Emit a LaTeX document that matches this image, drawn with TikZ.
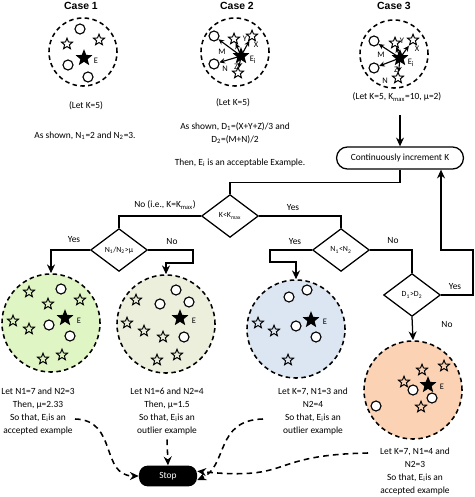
\documentclass[tikz,border=0pt]{standalone}
\usepackage{fontspec}
\setmainfont{Carlito}
\newfontfamily\headfont{Liberation Sans}
\usetikzlibrary{shapes.geometric,arrows.meta,positioning}
\definecolor{grpgreen}{RGB}{224,245,196}
\definecolor{grpbeige}{RGB}{235,239,220}
\definecolor{grpblue}{RGB}{220,230,242}
\definecolor{grporange}{RGB}{251,210,180}

\begin{document}
\begin{tikzpicture}[x=0.025cm,y=-0.025cm,
    every node/.style={font=\fontsize{6.7}{9.25}\selectfont,align=center},
    flow/.style={line width=0.9pt},
    arr/.style={flow,-{Stealth[length=2.2mm,width=2mm]}},
    small/.style={line width=0.8pt,-{Stealth[length=1.4mm,width=1.3mm]}},
    dasharr/.style={line width=1.1pt,dash pattern=on 4pt off 3pt,-{Stealth[length=2.2mm,width=2mm]}},
    ostar/.style={star,star points=5,star point ratio=2.3,draw,line width=0.7pt,inner sep=0,minimum size=0.29cm},
    fstar/.style={star,star points=5,star point ratio=2.3,fill=black,inner sep=0,minimum size=0.44cm},
    ocirc/.style={circle,draw,line width=0.8pt,fill=white,inner sep=0,minimum size=0.25cm},
    grp/.style={circle,draw,line width=1.1pt,dash pattern=on 3.2pt off 2.4pt,inner sep=0,minimum size=2.45cm},
    casegrp/.style={grp,minimum size=1.7cm},
    dec/.style={diamond,draw,flow,inner sep=0,minimum width=1.42cm,minimum height=1.07cm,font=\fontsize{5.6}{6}\selectfont},
    lbl/.style={font=\fontsize{6}{7}\selectfont,inner sep=0},
    head/.style={font=\headfont\bfseries\fontsize{7.4}{9}\selectfont}]
  \useasboundingbox (0,0) rectangle (474,497);

  % case 1
  \node[head] (h1) at (81,6) {Case 1};
  \node[casegrp] (g1) at (83,52) {};
  \node[ocirc] (c1a) at (80,29) {};
  \node[ocirc] (c1b) at (68,65) {};
  \node[ocirc] (c1c) at (88,77) {};
  \node[ostar] (s1a) at (67,44) {};
  \node[ostar] (s1b) at (99,40) {};
  \node[fstar] (e1) at (84,58) {};
  \node[lbl] (e1l) at (96,61) {E};
  \node (let1) at (86,106) {(Let K=5)};
  \node (txt1) at (85,136) {As shown, N\textsubscript{1}=2 and N\textsubscript{2}=3.};

  % case 2
  \node[head] (h2) at (237,6) {Case 2};
  \node[casegrp] (g2) at (235,52) {};
  \node[ocirc] (m2) at (214,36) {};
  \node[ocirc] (n2) at (214,64) {};
  \node[ostar] (y2) at (234,39) {};
  \node[ostar] (x2) at (252,36) {};
  \node[ostar] (z2) at (238,73) {};
  \node[fstar] (e2) at (241,56) {};
  \foreach \t in {m2,n2,y2,x2,z2} \draw[small] (e2.center) -- (\t);
  \node[lbl] at (222,52) {M};
  \node[lbl] at (225,69) {N};
  \node[lbl] at (245,39) {Y};
  \node[lbl] at (256,45) {X};
  \node[lbl] at (236,67) {Z};
  \node[lbl] at (253,60) {E\textsubscript{i}};
  \node (let2) at (233,103) {(Let K=5)};
  \node (txt2) at (235,133) {As shown, D\textsubscript{1}=(X+Y+Z)/3 and\\D\textsubscript{2}=(M+N)/2};
  \node (txt2b) at (240,163) {Then, E\textsubscript{i} is an acceptable Example.};

  % case 3
  \node[head] (h3) at (394,6) {Case 3};
  \node[casegrp] (g3) at (394,54) {};
  \node[ocirc] (m3) at (374,41) {};
  \node[ocirc] (n3) at (374,68) {};
  \node[ostar] (y3) at (395,43) {};
  \node[ostar] (x3) at (413,40) {};
  \node[ostar] (z3) at (398,78) {};
  \node[fstar] (e3) at (400,58) {};
  \foreach \t in {m3,n3,y3,x3,z3} \draw[small] (e3.center) -- (\t);
  \node[lbl] at (381,55) {M};
  \node[lbl] at (385,81) {N};
  \node[lbl] at (402,41) {Y};
  \node[lbl] at (417,49) {X};
  \node[lbl] at (396,70) {Z};
  \node[lbl] at (411,63) {E\textsubscript{i}};
  \node (let3) at (397,97) {(Let K=5, K\textsubscript{max}=10, μ=2)};

  % flow
  \node[draw,flow,rounded corners=0.27cm,minimum width=3.17cm,minimum height=0.55cm] (inc) at (400,158) {Continuously increment K};
  \draw[arr] (let3.south -| inc.north) ++(0,9) -- (inc.north);
  \node[dec] (kd) at (230,216) {K<K\textsubscript{max}};
  \node[dec] (rd) at (119,250) {N\textsubscript{1}/N\textsubscript{2}>μ};
  \node[dec] (nd) at (341,250) {N\textsubscript{1}<N\textsubscript{2}};
  \node[dec] (dd) at (412,295) {D\textsubscript{1}>D\textsubscript{2}};
  \draw[flow] (inc.south) -- ++(0,13) -| (kd.north);
  \draw[flow] (kd.west) -| (rd.north);
  \draw[flow] (kd.east) -| (nd.north);
  \node (kno) at (165,205) {No (i.e., K=K\textsubscript{max})};
  \node (kyes) at (293,208) {Yes};

  % groups
  \node[grp,fill=grpgreen] (gA) at (51,323) {};
  \node[grp,fill=grpbeige] (gB) at (166,324) {};
  \node[grp,fill=grpblue] (gC) at (296,329) {};
  \node[grp,fill=grporange] (gD) at (413,390) {};

  \draw[arr] (rd.west) -| (gA.north);
  \draw[arr] (rd.east) -| ++(45,13) -| (gB.north);
  \node (ryes) at (74,240) {Yes};
  \node (rno) at (172,242) {No};
  \draw[arr] (nd.west) -| ++(-42,12) -| (gC.north);
  \draw[flow] (nd.east) -| (dd.north);
  \node (nyes) at (295,242) {Yes};
  \node (nno) at (393,241) {No};
  \coordinate (back) at (441,250);
  \draw[arr] (dd.east) -| ++(32,-45) -- (back) -- (back |- inc.south);
  \draw[arr] (dd.south) -- (gD.north);
  \node (dyes) at (455,287) {Yes};
  \node (dno) at (447,325) {No};

  % group A
  \foreach \p [count=\i] in {(29,292),(48,304),(80,300),(13,321),(29,329),(62,355),(43,359)}
    \node[ostar] (sA\i) at \p {};
  \foreach \p [count=\i] in {(61,289),(49,325),(70,336)}
    \node[ocirc] (cA\i) at \p {};
  \node[fstar] (eA) at (65,318) {};
  \node[lbl] at (79,321) {E};

  % group B
  \foreach \p [count=\i] in {(136,300),(127,323),(144,331),(163,337),(177,355),(157,360)}
    \node[ostar] (sB\i) at \p {};
  \foreach \p [count=\i] in {(176,290),(160,304),(189,302),(184,337)}
    \node[ocirc] (cB\i) at \p {};
  \node[fstar] (eB) at (180,318) {};
  \node[lbl] at (194,321) {E};

  % group C
  \foreach \p [count=\i] in {(258,323),(274,331),(288,360)}
    \node[ostar] (sC\i) at \p {};
  \foreach \p [count=\i] in {(307,290),(289,297),(296,326),(316,337)}
    \node[ocirc] (cC\i) at \p {};
  \node[fstar] (eC) at (311,320) {};
  \node[lbl] at (325,322) {E};

  % group D
  \foreach \p [count=\i] in {(422,370),(444,366),(404,382),(421,407)}
    \node[ostar] (sD\i) at \p {};
  \foreach \p [count=\i] in {(413,390),(432,398),(376,406)}
    \node[ocirc] (cD\i) at \p {};
  \node[fstar] (eD) at (428,385) {};
  \node[lbl] at (442,387) {E};

  % results
  \node (tA) at (38,411) {Let N1=7 and N2=3\\Then, μ=2.33\\So that, E\textsubscript{i}is an\\accepted example};
  \node (tB) at (167,411) {Let N1=6 and N2=4\\Then, μ=1.5\\So that, E\textsubscript{i}is an\\outlier example};
  \node (tC) at (313,411) {Let K=7, N1=3 and\\N2=4\\So that, E\textsubscript{i}is an\\outlier example};
  \node (tD) at (415,471) {Let K=7, N1=4 and\\N2=3\\So that, E\textsubscript{i}is an\\accepted example};
  \node[fill=black,text=white,rounded corners=0.22cm,minimum width=1.45cm,minimum height=0.52cm] (stop) at (168,476) {Stop};

  \draw[dasharr] (75,419) .. controls (118,420) and (100,476) .. (stop.west);
  \draw[dasharr] (tB.south) -- (stop.north);
  \draw[dasharr] (263,419) .. controls (215,420) and (228,466) .. ([yshift=-0.1cm]stop.east);
  \draw[dasharr] (368,453) .. controls (265,455) and (295,481) .. ([yshift=0.12cm]stop.east);
\end{tikzpicture}
\end{document}
